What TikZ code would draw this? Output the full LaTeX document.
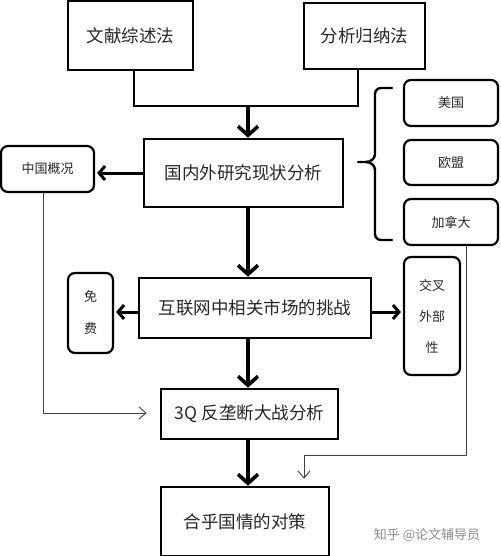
\documentclass[tikz,border=0pt]{standalone}
\usepackage{fontspec}
\setmainfont{Noto Sans CJK SC}
\usetikzlibrary{arrows.meta}
\begin{document}
\begin{tikzpicture}[x=1pt,y=-1pt,
  mainbox/.style={draw=black, line width=2.6pt, inner sep=0pt, text=black!85,
    font=\fontsize{17.5}{20}\selectfont},
  subbox/.style={draw=black, line width=2.2pt, rounded corners=7pt, inner sep=0pt,
    text=black!85, font=\fontsize{13}{15}\selectfont},
  bigarrow/.style={line width=3.6pt, -{Straight Barb[length=9pt,width=20pt]}},
  sidearrow/.style={line width=3pt, -{Straight Barb[length=6pt,width=14pt]}},
  thinarrow/.style={line width=0.9pt, draw=black!75, -{Straight Barb[length=7pt,width=12pt]}},
  conn/.style={line width=2.6pt, line join=miter},
  bracepath/.style={line width=2.4pt, line cap=round}
]
\useasboundingbox (0,0) rectangle (500,556);

% main boxes
\node[mainbox, minimum width=125pt, minimum height=69pt] (wx) at (130.5,35.5) {文献综述法};
\node[mainbox, minimum width=121pt, minimum height=66pt] (fx) at (364.5,36) {分析归纳法};
\node[mainbox, minimum width=199pt, minimum height=68pt] (gn) at (243.5,173) {国内外研究现状分析};
\node[mainbox, minimum width=232pt, minimum height=60pt] (hl) at (255,308) {互联网中相关市场的挑战};
\node[mainbox, minimum width=177pt, minimum height=50pt] (sq) at (249.5,414) {3Q 反垄断大战分析};
\node[mainbox, minimum width=168pt, minimum height=69pt] (hh) at (245,521.5) {合乎国情的对策};

% rounded side boxes
\node[subbox, minimum width=93pt, minimum height=46pt] (zg) at (47.5,169) {中国概况};
\node[subbox, minimum width=94pt, minimum height=46pt] (mg) at (451,103) {美国};
\node[subbox, minimum width=94pt, minimum height=45pt] (om) at (451,162.5) {欧盟};
\node[subbox, minimum width=94pt, minimum height=46pt] (jnd) at (451,222) {加拿大};
\node[subbox, minimum width=45pt, minimum height=80pt, align=center,
  font=\fontsize{13}{32}\selectfont] (mf) at (90.5,313) {免\\费};
\node[subbox, minimum width=56pt, minimum height=118pt, align=center,
  font=\fontsize{13}{31}\selectfont] (jc) at (432,316) {交叉\\外部\\性};

% top merge connector
\coordinate (mj) at (248,106);
\draw[conn] (wx.south -| 134,0) |- (mj) -| (fx.south -| 358,0);
\draw[bigarrow] (mj) -- (gn.north -| mj);

% main vertical arrows
\draw[bigarrow] (gn.south -| 248,0) -- (hl.north -| 248,0);
\draw[bigarrow] (hl.south -| 248,0) -- (sq.north -| 248,0);
\draw[bigarrow] (sq.south -| 248,0) -- (hh.north -| 248,0);

% side arrows
\draw[sidearrow] (gn.west) -- ([xshift=2pt]zg.east |- gn.west);
\draw[sidearrow] (hl.west |- 0,312) -- ([xshift=2pt]mf.east |- 0,312);
\draw[sidearrow] (hl.east |- 0,312) -- ([xshift=-2pt]jc.west |- 0,312);

% brace
\draw[bracepath] (392,88) -- (381,88) to[out=180,in=90] (375,94) -- (375,154)
  to[out=-90,in=0] (366,162) -- (358,162);
\draw[bracepath] (366,162) to[out=0,in=90] (375,170) -- (375,234)
  to[out=-90,in=180] (381,240) -- (392,240);

% thin connectors
\draw[thinarrow] (zg.south -| 43,0) |- ([xshift=-13pt]sq.west |- 0,413);
\draw[thinarrow] (jnd.south -| 466,0) |- (304,455) -- ([yshift=7pt]hh.north -| 304,0);

% watermark
\node[text=black!45, font=\fontsize{13}{15}\selectfont, anchor=center] (wm) at (427,535) {知乎 @论文辅导员};
\end{tikzpicture}
\end{document}
